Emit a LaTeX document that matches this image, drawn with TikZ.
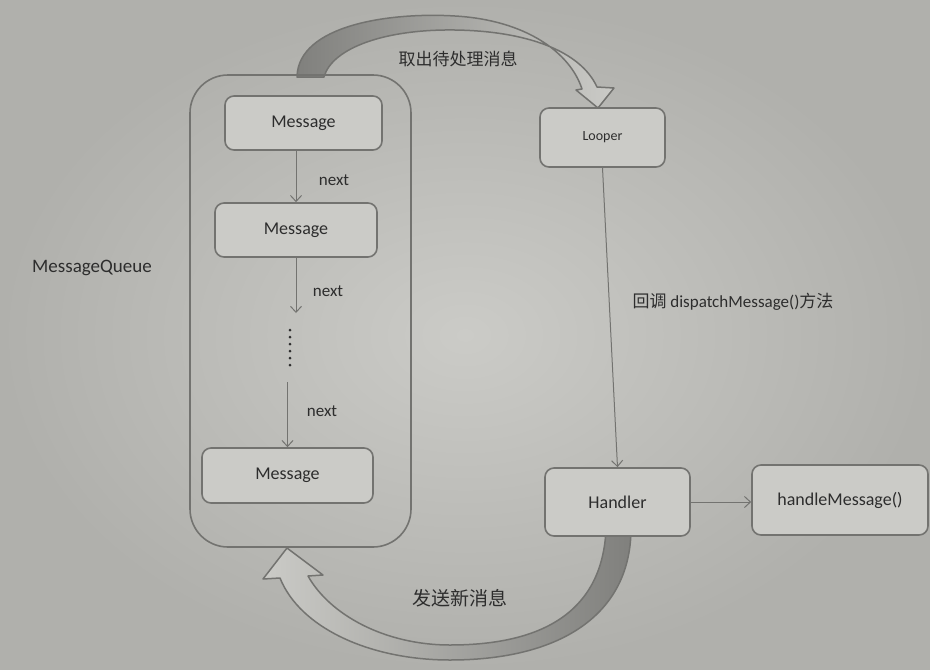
\documentclass[tikz,border=0pt]{standalone}
\usepackage{fontspec}
\setmainfont{Carlito}
\newfontfamily\cjk{Noto Sans CJK SC}
\usetikzlibrary{arrows.meta}
\definecolor{paper}{RGB}{203,203,199}
\definecolor{paperdark}{RGB}{176,176,172}
\definecolor{ink}{RGB}{45,45,45}
\definecolor{edge}{RGB}{115,115,112}
\definecolor{bandfill}{RGB}{128,128,125}
\begin{document}
\begin{tikzpicture}[x=1pt,y=-1pt,
  box/.style={draw=edge, line width=1.6pt, rounded corners=9pt, fill=paper, text=ink,
    font=\fontsize{18}{20}\selectfont, inner sep=0pt},
  link/.style={draw=edge, line width=1pt, -{Straight Barb[length=6pt,width=11pt]}},
  lbl/.style={text=ink, font=\fontsize{17}{19}\selectfont, inner sep=0pt},
  band/.style={draw=edge, line width=1.5pt, line join=round},
]
\useasboundingbox (0,0) rectangle (930,670);
\shade[inner color=paper, outer color=paperdark] (0,0) rectangle (930,670);

% big curved arrows
\path[band, left color=bandfill, middle color=paper, right color=paper]
  (297,77) .. controls (298,25) and (390,12) .. (455,16)
  .. controls (525,20) and (570,52) .. (582,89)
  -- (576,90) -- (598,108) -- (614,88) -- (597,87)
  .. controls (580,50) and (525,31) .. (455,30)
  .. controls (385,29) and (332,48) .. (324,77) -- cycle;
\path[band, left color=paper, middle color=paper, right color=bandfill]
  (631,530) .. controls (630,615) and (560,660) .. (450,660)
  .. controls (370,660) and (300,628) .. (280,578)
  -- (263,579) -- (287,548) -- (323,575) -- (308,576)
  .. controls (330,615) and (385,645) .. (450,645)
  .. controls (545,645) and (602,610) .. (606,530) -- cycle;

% message queue
\node[draw=edge, line width=1.6pt, rounded corners=38pt, minimum width=221pt,
  minimum height=472pt, inner sep=0pt] (queue) at (300.5,311) {};
\node[lbl, font=\fontsize{19}{21}\selectfont] (qlabel) at (92,268) {MessageQueue};

\node[box, minimum width=157pt, minimum height=54pt] (m1) at (303.5,123) {Message};
\node[box, minimum width=162pt, minimum height=54pt] (m2) at (296,230) {Message};
\node[box, minimum width=171pt, minimum height=55pt] (m3) at (287.5,475.5) {Message};

\coordinate (d1) at (296,313);
\coordinate (dotsA) at (290,330);
\coordinate (dotsB) at (290,366);
\coordinate (d2) at (287.5,382);

\draw[link] (m2.north |- m1.south) -- (m2.north);
\draw[link] (m2.south) -- (d1);
\draw[draw=ink, line width=3pt, line cap=round, dash pattern=on 0pt off 7pt] (dotsA) -- (dotsB);
\draw[link] (d2) -- (m3.north);

\node[lbl] (n1) at (334,180) {next};
\node[lbl] (n2) at (328,291) {next};
\node[lbl] (n3) at (322,411) {next};

% looper / handler
\node[box, minimum width=125pt, minimum height=59pt, font=\fontsize{14}{16}\selectfont] (looper) at (602.5,137.5) {Looper};
\node[box, minimum width=145pt, minimum height=68pt] (handler) at (617.5,502) {Handler};
\node[box, minimum width=176pt, minimum height=70pt] (hm) at (840,500) {handleMessage()};

\draw[link] (looper.south) -- (handler.north);
\draw[link] (handler.east) -- (handler.east -| hm.west);

\node[lbl] (dl) at (733,302) {\cjk 回调\ \rmfamily dispatchMessage()\cjk 方法};
\node[lbl, font=\fontsize{17}{19}\selectfont\cjk] (tl) at (458,59) {取出待处理消息};
\node[lbl, font=\fontsize{19}{21}\selectfont\cjk] (bl) at (460,598) {发送新消息};
\end{tikzpicture}
\end{document}
